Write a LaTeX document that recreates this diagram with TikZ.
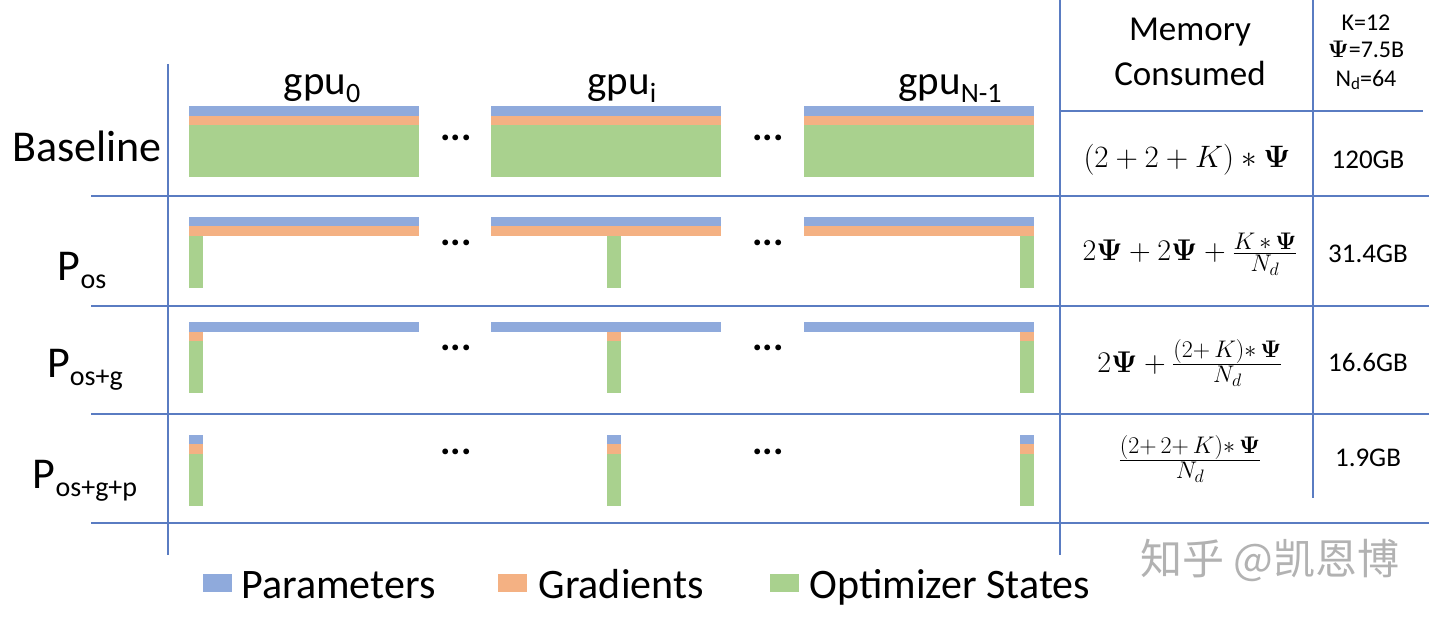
\RequirePackage{fix-cm}
\documentclass[tikz,border=0pt]{standalone}
\usepackage{amsmath}
\usepackage[no-math]{fontspec}
\setmainfont{Carlito}
\newfontfamily\cjkfont{Noto Sans CJK SC}
\DeclareMathSizes{30}{30}{24}{18}
\definecolor{parblue}{HTML}{8FAADC}
\definecolor{gradorange}{HTML}{F4B183}
\definecolor{optgreen}{HTML}{A9D18E}
\definecolor{gridblue}{HTML}{5A7CC2}
\newcommand\lowsub[2]{\raisebox{-#2}{\fontsize{28}{28}\selectfont #1}}

\begin{document}
\begin{tikzpicture}[line cap=butt,x=1pt,y=-1pt,
	grid/.style={gridblue,line width=1.1pt},
	rowlbl/.style={anchor=base,font=\fontsize{44}{50}\selectfont},
	gpulbl/.style={anchor=base,font=\fontsize{41}{46}\selectfont},
	gaps/.style={anchor=base,font=\fontsize{39}{40}\selectfont\bfseries},
	headlbl/.style={anchor=base,font=\fontsize{35}{40}\selectfont},
	parlbl/.style={anchor=base,font=\fontsize{24}{27}\selectfont},
	formula/.style={font=\fontsize{30}{36}\selectfont},
	gblbl/.style={font=\fontsize{27}{30}\selectfont},
	legtext/.style={anchor=base west,font=\fontsize{42}{48}\selectfont}]
	\useasboundingbox (0,0) rectangle (1440,618);
	% table lines
	\draw [grid] (168,64) -- (168,555);
	\draw [grid] (1060,0) -- (1060,555);
	\draw [grid] (1313,0) -- (1313,498);
	\draw [grid] (1060,111) -- (1423,111);
	\foreach \yl in {196,306,414,523}
		\draw [grid] (91,\yl) -- (1429,\yl);
	% baseline: everything on every gpu
	\foreach \xa in {189,491,804} {
		\fill [parblue] (\xa,106) rectangle ++(230,10);
		\fill [gradorange] (\xa,116) rectangle ++(230,9);
		\fill [optgreen] (\xa,125) rectangle ++(230,52);
	}
	% P_os
	\foreach \xa in {189,491,804} {
		\fill [parblue] (\xa,217) rectangle ++(230,9);
		\fill [gradorange] (\xa,226) rectangle ++(230,10);
	}
	\foreach \xs in {189,607,1020}
		\fill [optgreen] (\xs,236) rectangle ++(14,52);
	% P_os+g
	\foreach \xa in {189,491,804}
		\fill [parblue] (\xa,322) rectangle ++(230,10);
	\foreach \xs in {189,607,1020} {
		\fill [gradorange] (\xs,332) rectangle ++(14,9);
		\fill [optgreen] (\xs,341) rectangle ++(14,52);
	}
	% P_os+g+p
	\foreach \xs in {189,607,1020} {
		\fill [parblue] (\xs,435) rectangle ++(14,9);
		\fill [gradorange] (\xs,444) rectangle ++(14,10);
		\fill [optgreen] (\xs,454) rectangle ++(14,52);
	}
	% dots between the gpus
	\foreach \yd [count=\r] in {140,245,350,454} {
		\node [gaps] (dotsL\r) at (456,\yd) {...};
		\node [gaps] (dotsR\r) at (768,\yd) {...};
	}
	% headers
	\node [gpulbl] (gpuA) at (322,95) {gpu\lowsub{0}{7pt}};
	\node [gpulbl] (gpuI) at (622,95) {gpu\lowsub{i}{7pt}};
	\node [gpulbl] (gpuN) at (950,95) {gpu\lowsub{N-1}{7pt}};
	\node [rowlbl] (rowBase) at (87,161) {Baseline};
	\node [rowlbl] (rowOs) at (82,280) {P\lowsub{os}{8pt}};
	\node [rowlbl] (rowOsG) at (85,377) {P\lowsub{os+g}{8pt}};
	\node [rowlbl] (rowOsGP) at (85,488) {P\lowsub{os+g+p}{8pt}};
	\node [headlbl] (memA) at (1190,41) {Memory};
	\node [headlbl] (memB) at (1190,85) {Consumed};
	\node [parlbl] (parK) at (1366,31) {K=12};
	\node [parlbl] (parPsi) at (1366,58) {$\mathbf{\Psi}$=7.5B};
	\node [parlbl] (parNd) at (1366,86) {N\raisebox{-3pt}{\fontsize{17}{17}\selectfont d}=64};
	% memory per gpu
	\node [formula,font=\fontsize{31}{36}\selectfont] (memBase) at (1187,160) {$(2+2+K)*\mathbf{\Psi}$};
	\node [formula] (memOs) at (1190,254) {$2\mathbf{\Psi}+2\mathbf{\Psi}+\frac{K\,*\,\mathbf{\Psi}}{N_d}$};
	\node [formula] (memOsG) at (1190,363) {$2\mathbf{\Psi}+\frac{(2+\,K)*\,\mathbf{\Psi}}{N_d}$};
	\node [formula] (memOsGP) at (1190,459) {$\frac{(2+\,2+\,K)*\,\mathbf{\Psi}}{N_d}$};
	\node [gblbl] (gbBase) at (1368,160) {120GB};
	\node [gblbl] (gbOs) at (1368,254) {31.4GB};
	\node [gblbl] (gbOsG) at (1368,362) {16.6GB};
	\node [gblbl] (gbOsGP) at (1368,458) {1.9GB};
	% legend
	\fill [parblue] (203,574) rectangle (232,592);
	\fill [gradorange] (498,574) rectangle (527,592);
	\fill [optgreen] (770,574) rectangle (799,592);
	\node [legtext] (legPar) at (238,598) {Parameters};
	\node [legtext] (legGrad) at (535,598) {Gradients};
	\node [legtext] (legOpt) at (806,598) {Optimizer States};
	\node [font=\fontsize{42}{46}\selectfont\cjkfont,text=black!30] (mark) at (1270,560) {知乎 @凯恩博};
\end{tikzpicture}
\end{document}
